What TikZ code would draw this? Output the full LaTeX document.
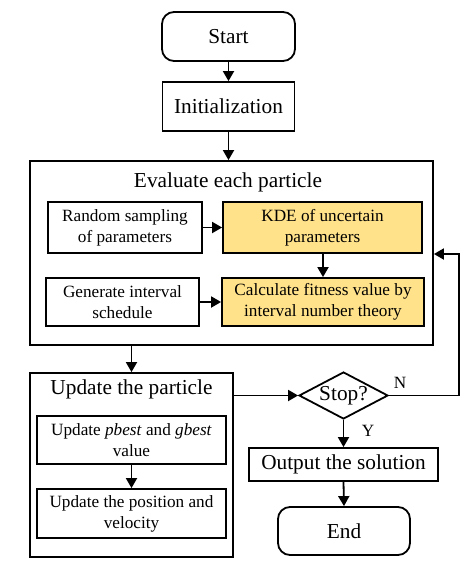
\documentclass[tikz,border=0pt]{standalone}
\usepackage{fontspec}
\setmainfont{Liberation Serif}
\usetikzlibrary{shapes.geometric,arrows.meta}
\definecolor{kdeyellow}{HTML}{FFE28A}
\tikzset{
  bigtxt/.style={font=\fontsize{21.3}{25}\selectfont},
  smalltxt/.style={font=\fontsize{17.2}{21}\selectfont},
  box/.style={draw, line width=1.8pt, inner sep=0pt, align=center},
  yel/.style={box, fill=kdeyellow},
  term/.style={box, rounded corners=12pt},
  arr/.style={line width=1.8pt, -{Triangle[length=10pt,width=11pt]}},
  ln/.style={line width=1.8pt}
}
\begin{document}
\begin{tikzpicture}[x=1pt,y=-1pt]
\useasboundingbox (0,0) rectangle (474,567);
% top
\node[term,bigtxt,minimum width=133pt,minimum height=49pt] (start) at (228.5,36.5) {Start};
\node[box,bigtxt,minimum width=132pt,minimum height=49pt] (init) at (228.5,106.5) {Initialization};
% evaluate
\node[box,minimum width=403pt,minimum height=184pt] (evalbox) at (231.5,253) {};
\node[bigtxt] (evaltitle) at (228,182) {Evaluate each particle};
\node[box,smalltxt,minimum width=154pt,minimum height=51pt] (rand) at (125,227.5) {Random sampling\\of parameters};
\node[yel,smalltxt,minimum width=199pt,minimum height=51pt] (kde) at (322.5,227.5) {KDE of uncertain\\parameters};
\node[box,smalltxt,minimum width=153pt,minimum height=48pt] (gen) at (122.5,302) {Generate interval\\schedule};
\node[yel,smalltxt,minimum width=202pt,minimum height=48pt] (calc) at (323,302) {Calculate fitness value by\\interval number theory};
% update
\node[box,minimum width=203pt,minimum height=184pt] (update) at (131.5,465) {};
\node[bigtxt] (updtitle) at (131.5,389) {Update the particle};
\node[box,smalltxt,minimum width=189pt,minimum height=48pt] (pbest) at (131.5,440) {Update \textit{pbest} and \textit{gbest}\\value};
\node[box,smalltxt,minimum width=189pt,minimum height=49pt] (pos) at (131.5,513.5) {Update the position and\\velocity};
% right column
\node[draw,line width=1.8pt,diamond,minimum width=89pt,minimum height=47pt,inner sep=0pt,
      label={[bigtxt]center:Stop?}] (stop) at (343.5,395.5) {};
\node[box,bigtxt,minimum width=189pt,minimum height=33pt] (out) at (343.5,464.5) {Output the solution};
\node[term,bigtxt,minimum width=132pt,minimum height=48pt] (endn) at (344,531) {End};
\node[smalltxt] (nlab) at (400,383) {N};
\node[smalltxt] (ylab) at (368,431) {Y};
\coordinate (fbc) at (459,254);
% connectors
\draw[arr] (start) -- (init);
\draw[arr] (init) -- (init |- evalbox.north);
\draw[arr] (rand) -- (kde);
\draw[arr] (kde.south -| 323,0) -- (calc.north -| 323,0);
\draw[arr] (gen) -- (calc);
\draw[arr] (update.north |- evalbox.south) -- (update.north);
\draw[arr] (pbest) -- (pos);
\draw[arr] (update.east |- stop.west) -- (stop.west);
\draw[arr] (stop.south) -- (out.north);
\draw[arr] (out.south) -- (endn.north);
\draw[arr] (stop.east) -| (fbc) -- (fbc -| evalbox.east);
\end{tikzpicture}
\end{document}
